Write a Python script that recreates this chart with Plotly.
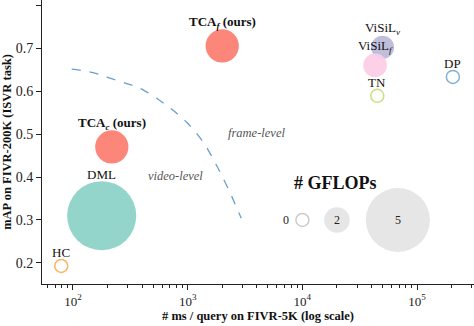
import plotly.graph_objects as go
import numpy as np

# ---- data ----
methods = ["HC", "DML", "TCA<sub><i>c</i></sub> (ours)", "TCA<sub><i>f</i></sub> (ours)",
           "ViSiL<sub><i>v</i></sub>", "ViSiL<sub><i>f</i></sub>", "TN", "DP"]
bold = [False, False, True, True, False, False, False, False]
ms_per_query = [79, 178, 218, 2000, 50000, 43000, 45000, 205000]
map_isvr = [0.193, 0.31, 0.47, 0.705, 0.702, 0.66, 0.589, 0.633]
gflops = [0, 5.4, 2.6, 2.6, 1.8, 1.85, 0, 0]
colors = ["#fdb462", "#8dd3c7", "#fb8072", "#fb8072", "#bebada", "#fccde5", "#c8e07a", "#80b1d3"]

curve_ms = [97.5, 150, 210, 300, 408, 653, 975, 1358, 1778, 2317, 2931]
curve_map = [0.651, 0.643, 0.630, 0.617, 0.603, 0.567, 0.528, 0.482, 0.428, 0.366, 0.304]

legend_gflops = [0, 2, 5]
legend_ms = [10000, 20000, 68000]
legend_map = [0.3, 0.3, 0.3]

x_tickvals = [100, 1000, 10000, 100000]
x_ticktext = ["10<sup>2</sup>", "10<sup>3</sup>", "10<sup>4</sup>", "10<sup>5</sup>"]
y_tickvals = [0.2, 0.3, 0.4, 0.5, 0.6, 0.7, 0.8]

SERIF = "Liberation Serif"
PX_PER_GFLOP = 12.8
HOLLOW = 13


def diam(g):
    return HOLLOW if g == 0 else g * PX_PER_GFLOP


fig = go.Figure()

# dashed separator
fig.add_trace(go.Scatter(x=curve_ms, y=curve_map, mode="lines", line=dict(color="#6a9fcf", width=1.3, dash="dash"),
                         line_shape="spline", hoverinfo="skip", showlegend=False))

annotations = []
for i in range(len(methods)):
    g = gflops[i]
    d = diam(g)
    if g == 0:
        marker = dict(size=d, color="rgba(0,0,0,0)", line=dict(color=colors[i], width=1.5))
    else:
        marker = dict(size=d, color=colors[i], opacity=0.95, line=dict(width=0))
    fig.add_trace(go.Scatter(x=[ms_per_query[i]], y=[map_isvr[i]], mode="markers", marker=marker, showlegend=False))
    txt = "<b>" + methods[i] + "</b>" if bold[i] else methods[i]
    annotations.append(dict(x=np.log10(ms_per_query[i]), y=map_isvr[i], text=txt, showarrow=False,
                            yshift=d / 2 + 7, xanchor="center", yanchor="middle",
                            font=dict(family=SERIF, size=13, color="#111")))

# size legend
for g, xm, ym in zip(legend_gflops, legend_ms, legend_map):
    d = diam(g)
    if g == 0:
        marker = dict(size=d, color="rgba(0,0,0,0)", line=dict(color="#cccccc", width=1.5))
        annotations.append(dict(x=np.log10(xm), y=ym, text=str(g), showarrow=False, xshift=-16,
                                xanchor="center", font=dict(family=SERIF, size=12, color="#222")))
    else:
        marker = dict(size=d, color="#e6e6e6", line=dict(width=0))
        annotations.append(dict(x=np.log10(xm), y=ym, text=str(g), showarrow=False,
                                xanchor="center", font=dict(family=SERIF, size=12, color="#222")))
    fig.add_trace(go.Scatter(x=[xm], y=[ym], mode="markers", marker=marker, showlegend=False))

annotations.append(dict(x=0.68, y=0.386, xref="paper", yref="y", text="<b># GFLOPs</b>", showarrow=False,
                        xanchor="center", yanchor="middle",
                        font=dict(family=SERIF, size=18, color="#111")))
annotations.append(dict(x=np.log10(4000), y=0.502, text="<i>frame-level</i>", showarrow=False,
                        xanchor="center", font=dict(family=SERIF, size=12.5, color="#555")))
annotations.append(dict(x=np.log10(787), y=0.402, text="<i>video-level</i>", showarrow=False,
                        xanchor="center", font=dict(family=SERIF, size=12.5, color="#555")))

minor_vals = [m * 10 ** e for e in range(1, 6) for m in range(2, 10)]

fig.update_layout(
    width=474, height=326, margin=dict(l=42, r=0, t=0, b=42),
    plot_bgcolor="white", paper_bgcolor="white",
    annotations=annotations,
    font=dict(family=SERIF, size=12, color="#111"),
    xaxis=dict(type="log", range=[1.730, 5.496], showgrid=False, zeroline=False,
               showline=True, linecolor="#222", linewidth=1,
               ticks="outside", ticklen=5, tickcolor="#222",
               tickvals=x_tickvals, ticktext=x_ticktext,
               tickfont=dict(family=SERIF, size=13, color="#222"),
               minor=dict(tickvals=minor_vals, ticks="outside", ticklen=3, tickcolor="#222", showgrid=False),
               title=dict(text="<b># ms / query on FIVR-5K (log scale)</b>", standoff=2,
                          font=dict(family=SERIF, size=12.5, color="#111"))),
    yaxis=dict(range=[0.151, 0.812], showgrid=False, zeroline=False,
               showline=True, linecolor="#222", linewidth=1,
               ticks="outside", ticklen=5, tickcolor="#222",
               tickvals=y_tickvals, tickformat=".1f",
               tickfont=dict(family=SERIF, size=14, color="#222"),
               title=dict(text="<b>mAP on FIVR-200K (ISVR task)</b>", standoff=3,
                          font=dict(family=SERIF, size=12.5, color="#111"))),
)

fig.write_html("out.html")
